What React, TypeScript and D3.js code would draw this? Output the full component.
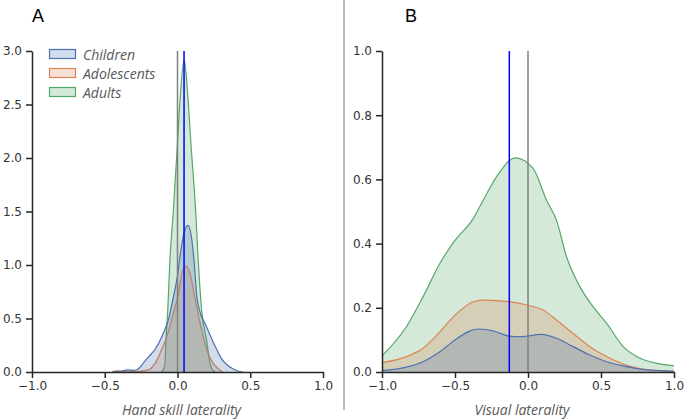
import React, { useEffect, useRef } from 'react';
import * as d3 from 'd3';

type Pt = [number, number];

// density curves, [laterality, density]
const handChildren: Pt[] = [
  [-0.45, 0], [-0.4, 0.005], [-0.34, 0.02], [-0.3, 0.015], [-0.26, 0.04], [-0.237, 0.08],
  [-0.2, 0.14], [-0.155, 0.21], [-0.098, 0.36], [-0.06, 0.5], [-0.033, 0.67], [0.0, 0.9],
  [0.017, 1.08], [0.045, 1.3], [0.072, 1.37], [0.1, 1.22], [0.115, 1.02], [0.132, 0.72],
  [0.155, 0.56], [0.19, 0.45], [0.219, 0.36], [0.245, 0.28], [0.27, 0.21], [0.3, 0.13],
  [0.338, 0.07], [0.38, 0.03], [0.41, 0.012], [0.45, 0],
];
const handAdolescents: Pt[] = [
  [-0.45, 0], [-0.42, 0.01], [-0.38, 0.005], [-0.3, 0.003], [-0.2, 0.02], [-0.155, 0.08],
  [-0.109, 0.21], [-0.074, 0.33], [-0.04, 0.49], [0.006, 0.73], [0.03, 0.92], [0.06, 0.99],
  [0.09, 0.9], [0.115, 0.73], [0.15, 0.49], [0.177, 0.33], [0.2, 0.21], [0.246, 0.08],
  [0.28, 0.03], [0.31, 0],
];
const handAdults: Pt[] = [
  [-0.11, 0], [-0.095, 0.03], [-0.086, 0.08], [-0.08, 0.27], [-0.067, 0.58], [-0.052, 1.05],
  [-0.029, 1.5], [-0.001, 2.12], [0.02, 2.6], [0.046, 2.92], [0.07, 2.6], [0.093, 2.12],
  [0.125, 1.5], [0.142, 1.05], [0.166, 0.58], [0.203, 0.27], [0.223, 0.08], [0.24, 0.02],
  [0.26, 0],
];

const visualChildren: Pt[] = [
  [-1, 0.004], [-0.833, 0.015], [-0.719, 0.032], [-0.604, 0.063], [-0.5, 0.1], [-0.34, 0.134],
  [-0.24, 0.128], [-0.128, 0.112], [-0.055, 0.11], [0.092, 0.117], [0.195, 0.105], [0.309, 0.079],
  [0.424, 0.053], [0.538, 0.032], [0.652, 0.019], [0.767, 0.009], [1, 0.002],
];
const visualAdolescents: Pt[] = [
  [-1, 0.029], [-0.833, 0.048], [-0.719, 0.074], [-0.604, 0.125], [-0.5, 0.177], [-0.375, 0.219],
  [-0.307, 0.224], [-0.128, 0.219], [0, 0.208], [0.103, 0.193], [0.195, 0.162], [0.309, 0.12],
  [0.424, 0.079], [0.538, 0.048], [0.652, 0.025], [0.767, 0.011], [1, 0.002],
];
const visualAdults: Pt[] = [
  [-1, 0.05], [-0.833, 0.141], [-0.719, 0.234], [-0.604, 0.338], [-0.5, 0.41], [-0.375, 0.478],
  [-0.307, 0.535], [-0.216, 0.608], [-0.086, 0.667], [0.035, 0.634], [0.127, 0.535], [0.195, 0.473],
  [0.264, 0.359], [0.355, 0.266], [0.447, 0.203], [0.538, 0.152], [0.652, 0.079], [0.767, 0.043],
  [0.881, 0.027], [1, 0.02],
];

const groups = ['Children', 'Adolescents', 'Adults'];
const colors = ['#4c72b0', '#dd8452', '#55a868'];
const xTicks = [-1, -0.5, 0, 0.5, 1];
const handYTicks = [0, 0.5, 1, 1.5, 2, 2.5, 3];
const visualYTicks = [0, 0.2, 0.4, 0.6, 0.8, 1];
const handMean = 0.045;
const visualMean = -0.128;

const panels = [
  { key: 'A', title: 'Hand skill laterality', yMax: 3, yTicks: handYTicks, mean: handMean,
    series: [handChildren, handAdolescents, handAdults], left: 32, right: 323, legend: true },
  { key: 'B', title: 'Visual laterality', yMax: 1, yTicks: visualYTicks, mean: visualMean,
    series: [visualChildren, visualAdolescents, visualAdults], left: 382, right: 674, legend: false },
];

const W = 685;
const H = 419;
const TOP = 51;
const BOTTOM = 372;
const ink = '#262626';

export default function App() {
  const svgRef = useRef<SVGSVGElement>(null);

  useEffect(() => {
    if (!svgRef.current) return;
    const svg = d3.select(svgRef.current);
    svg.selectAll('*').remove();

    // divider between panels
    svg.append('line')
      .attr('x1', 344).attr('x2', 344).attr('y1', 0).attr('y2', 410)
      .attr('stroke', '#777').attr('stroke-width', 1);

    panels.forEach(p => {
      const x = d3.scaleLinear().domain([-1, 1]).range([p.left, p.right]);
      const y = d3.scaleLinear().domain([0, p.yMax]).range([BOTTOM, TOP]);
      const g = svg.append('g');

      const area = d3.area<Pt>()
        .x(d => x(d[0])).y0(y(0)).y1(d => y(d[1]))
        .curve(d3.curveMonotoneX);
      const line = d3.line<Pt>()
        .x(d => x(d[0])).y(d => y(d[1]))
        .curve(d3.curveMonotoneX);

      // draw adults at the back, children on top
      [2, 1, 0].forEach(i => {
        g.append('path').attr('d', area(p.series[i]))
          .attr('fill', colors[i]).attr('fill-opacity', 0.25);
        g.append('path').attr('d', line(p.series[i]))
          .attr('fill', 'none').attr('stroke', colors[i]).attr('stroke-width', 1.2);
      });

      // reference lines
      g.append('line')
        .attr('x1', x(0)).attr('x2', x(0)).attr('y1', y(p.yMax)).attr('y2', y(0))
        .attr('stroke', '#808080').attr('stroke-width', 1.5);
      g.append('line')
        .attr('x1', x(p.mean)).attr('x2', x(p.mean)).attr('y1', y(p.yMax)).attr('y2', y(0))
        .attr('stroke', '#0000ff').attr('stroke-width', 1.5);

      // axes
      const xa = g.append('g')
        .attr('transform', `translate(0,${BOTTOM})`)
        .call(d3.axisBottom(x).tickValues(xTicks).tickSize(6).tickPadding(3).tickSizeOuter(0)
          .tickFormat(d => d3.format('.1f')(d as number).replace('-', '\u2212')));
      const ya = g.append('g')
        .attr('transform', `translate(${p.left},0)`)
        .call(d3.axisLeft(y).tickValues(p.yTicks).tickSize(6).tickPadding(4).tickSizeOuter(0)
          .tickFormat(d => d3.format('.1f')(d as number)));
      [xa, ya].forEach(a => {
        a.selectAll('path, line').attr('stroke', ink).attr('stroke-width', 1.5);
        a.selectAll('text').attr('fill', '#333')
          .style('font-family', '"DejaVu Sans", sans-serif').style('font-size', '12px');
      });

      g.append('text')
        .attr('x', (p.left + p.right) / 2 + (p.key === 'A' ? 4 : -6)).attr('y', 415)
        .attr('text-anchor', 'middle')
        .style('font-family', '"Open Sans", sans-serif').style('font-style', 'italic')
        .style('font-size', '14px').attr('fill', '#595959')
        .text(p.title);

      g.append('text')
        .attr('x', p.left + (p.key === 'A' ? 0 : 23)).attr('y', 22)
        .style('font-family', '"Liberation Sans", Arial, sans-serif')
        .style('font-size', '18px').attr('fill', '#000')
        .text(p.key);

      if (p.legend) {
        const lg = g.append('g').attr('transform', `translate(49,49)`);
        groups.forEach((name, i) => {
          const row = lg.append('g').attr('transform', `translate(0,${i * 19})`);
          row.append('rect')
            .attr('x', 0.5).attr('y', 0.5).attr('width', 26).attr('height', 9)
            .attr('fill', colors[i]).attr('fill-opacity', 0.25)
            .attr('stroke', colors[i]).attr('stroke-width', 1.2);
          row.append('text')
            .attr('x', 34).attr('y', 10.5)
            .style('font-family', '"Open Sans", sans-serif').style('font-style', 'italic')
            .style('font-size', '14px').attr('fill', '#595959')
            .text(name);
        });
      }
    });
  }, []);

  return (
    <svg ref={svgRef} width={W} height={H}
      style={{ position: 'absolute', left: 0, top: 0, background: '#fff' }} />
  );
}
